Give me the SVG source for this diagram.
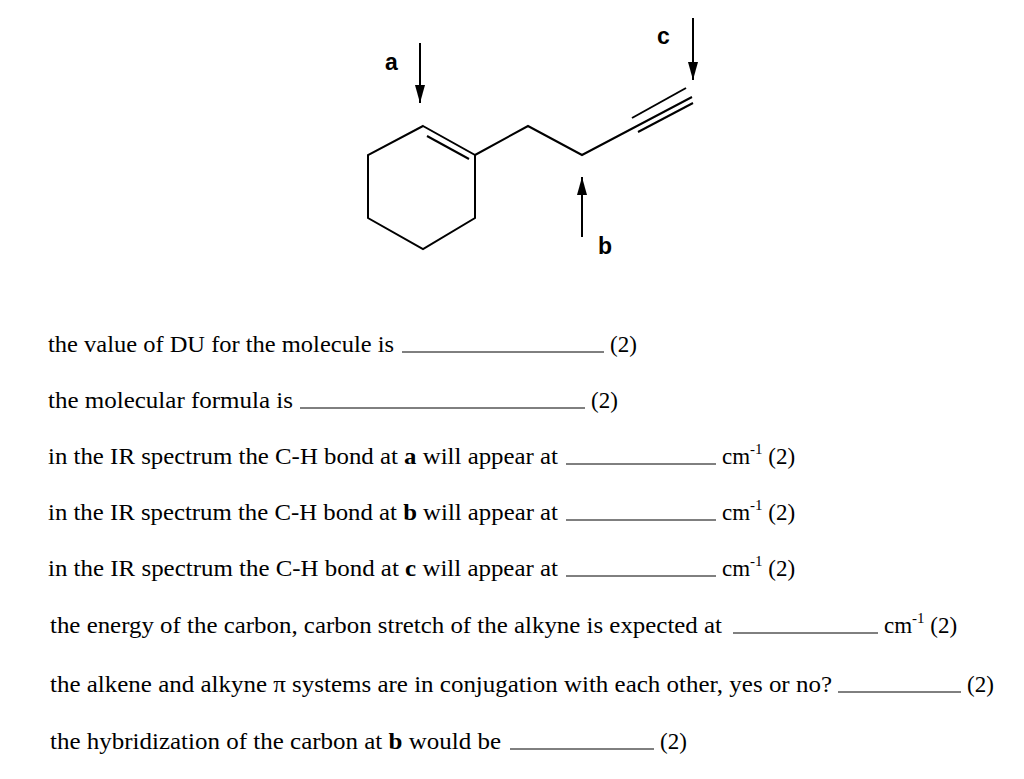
<svg xmlns="http://www.w3.org/2000/svg" width="1024" height="779" viewBox="0 0 1024 779">
<defs>
<marker id="ah" viewBox="0 0 10 10" refX="10" refY="5" markerWidth="18" markerHeight="10" markerUnits="userSpaceOnUse" orient="auto" preserveAspectRatio="none"><path d="M0,0 L10,5 L0,10 z" fill="#000"/></marker>
<style>
.b{stroke:#000;stroke-width:2;fill:none}
.ar{stroke:#000;stroke-width:2;fill:none}
.lb{font-family:"Liberation Sans",Arial,sans-serif;font-weight:bold;font-size:23px}
.t{font-family:"Liberation Serif","Times New Roman",serif;font-size:23px;fill:#000}
.u{stroke:#000;stroke-width:1}
</style>
</defs>
<rect width="1024" height="779" fill="#fff"/>
<g id="molecule">
<path class="b" d="M423,126 L475,155 L475,218 L423,249 L368,218 L368,155 Z"/>
<line class="b" x1="427" y1="136" x2="469" y2="159"/>
<path class="b" d="M475,155 L528,126 L582,155 L692,97"/>
<line class="b" x1="632" y1="118" x2="686" y2="88"/>
<line class="b" x1="638" y1="132" x2="693" y2="103"/>
</g>
<g id="connectors">
<line class="ar" x1="420" y1="43" x2="420" y2="103" marker-end="url(#ah)"/>
<line class="ar" x1="693" y1="18" x2="693" y2="80" marker-end="url(#ah)"/>
<line class="ar" x1="582" y1="237" x2="582" y2="177" marker-end="url(#ah)"/>
</g>
<g id="labels">
<text class="lb" x="385" y="70">a</text>
<text class="lb" x="657" y="44">c</text>
<text class="lb" x="598" y="254">b</text>
</g>
<g id="questions">
<text class="t" x="48" y="352" textLength="346" lengthAdjust="spacingAndGlyphs">the value of DU for the molecule is</text>
<line class="u" x1="402" y1="352" x2="604" y2="352"/>
<text class="t" x="610" y="352">(2)</text>
<text class="t" x="48" y="408" textLength="245" lengthAdjust="spacingAndGlyphs">the molecular formula is</text>
<line class="u" x1="300" y1="408" x2="585" y2="408"/>
<text class="t" x="591" y="408">(2)</text>
<text class="t" x="48" y="464" textLength="510" lengthAdjust="spacingAndGlyphs">in the IR spectrum the C-H bond at <tspan font-weight="bold">a</tspan> will appear at</text>
<line class="u" x1="566" y1="464" x2="716" y2="464"/>
<text class="t" x="722" y="464">cm<tspan dy="-10" font-size="15">-1</tspan><tspan dy="10"> (2)</tspan></text>
<text class="t" x="48" y="520" textLength="510" lengthAdjust="spacingAndGlyphs">in the IR spectrum the C-H bond at <tspan font-weight="bold">b</tspan> will appear at</text>
<line class="u" x1="566" y1="520" x2="716" y2="520"/>
<text class="t" x="722" y="520">cm<tspan dy="-10" font-size="15">-1</tspan><tspan dy="10"> (2)</tspan></text>
<text class="t" x="48" y="576" textLength="510" lengthAdjust="spacingAndGlyphs">in the IR spectrum the C-H bond at <tspan font-weight="bold">c</tspan> will appear at</text>
<line class="u" x1="566" y1="576" x2="716" y2="576"/>
<text class="t" x="722" y="576">cm<tspan dy="-10" font-size="15">-1</tspan><tspan dy="10"> (2)</tspan></text>
<text class="t" x="50" y="633" textLength="672" lengthAdjust="spacingAndGlyphs">the energy of the carbon, carbon stretch of the alkyne is expected at</text>
<line class="u" x1="733" y1="633" x2="878" y2="633"/>
<text class="t" x="884" y="633">cm<tspan dy="-10" font-size="15">-1</tspan><tspan dy="10"> (2)</tspan></text>
<text class="t" x="50" y="692" textLength="782" lengthAdjust="spacingAndGlyphs">the alkene and alkyne π systems are in conjugation with each other, yes or no?</text>
<line class="u" x1="838" y1="692" x2="961" y2="692"/>
<text class="t" x="967" y="692">(2)</text>
<text class="t" x="50" y="749" textLength="451" lengthAdjust="spacingAndGlyphs">the hybridization of the carbon at <tspan font-weight="bold">b</tspan> would be</text>
<line class="u" x1="510" y1="749" x2="654" y2="749"/>
<text class="t" x="660" y="749">(2)</text>
</g>
</svg>
